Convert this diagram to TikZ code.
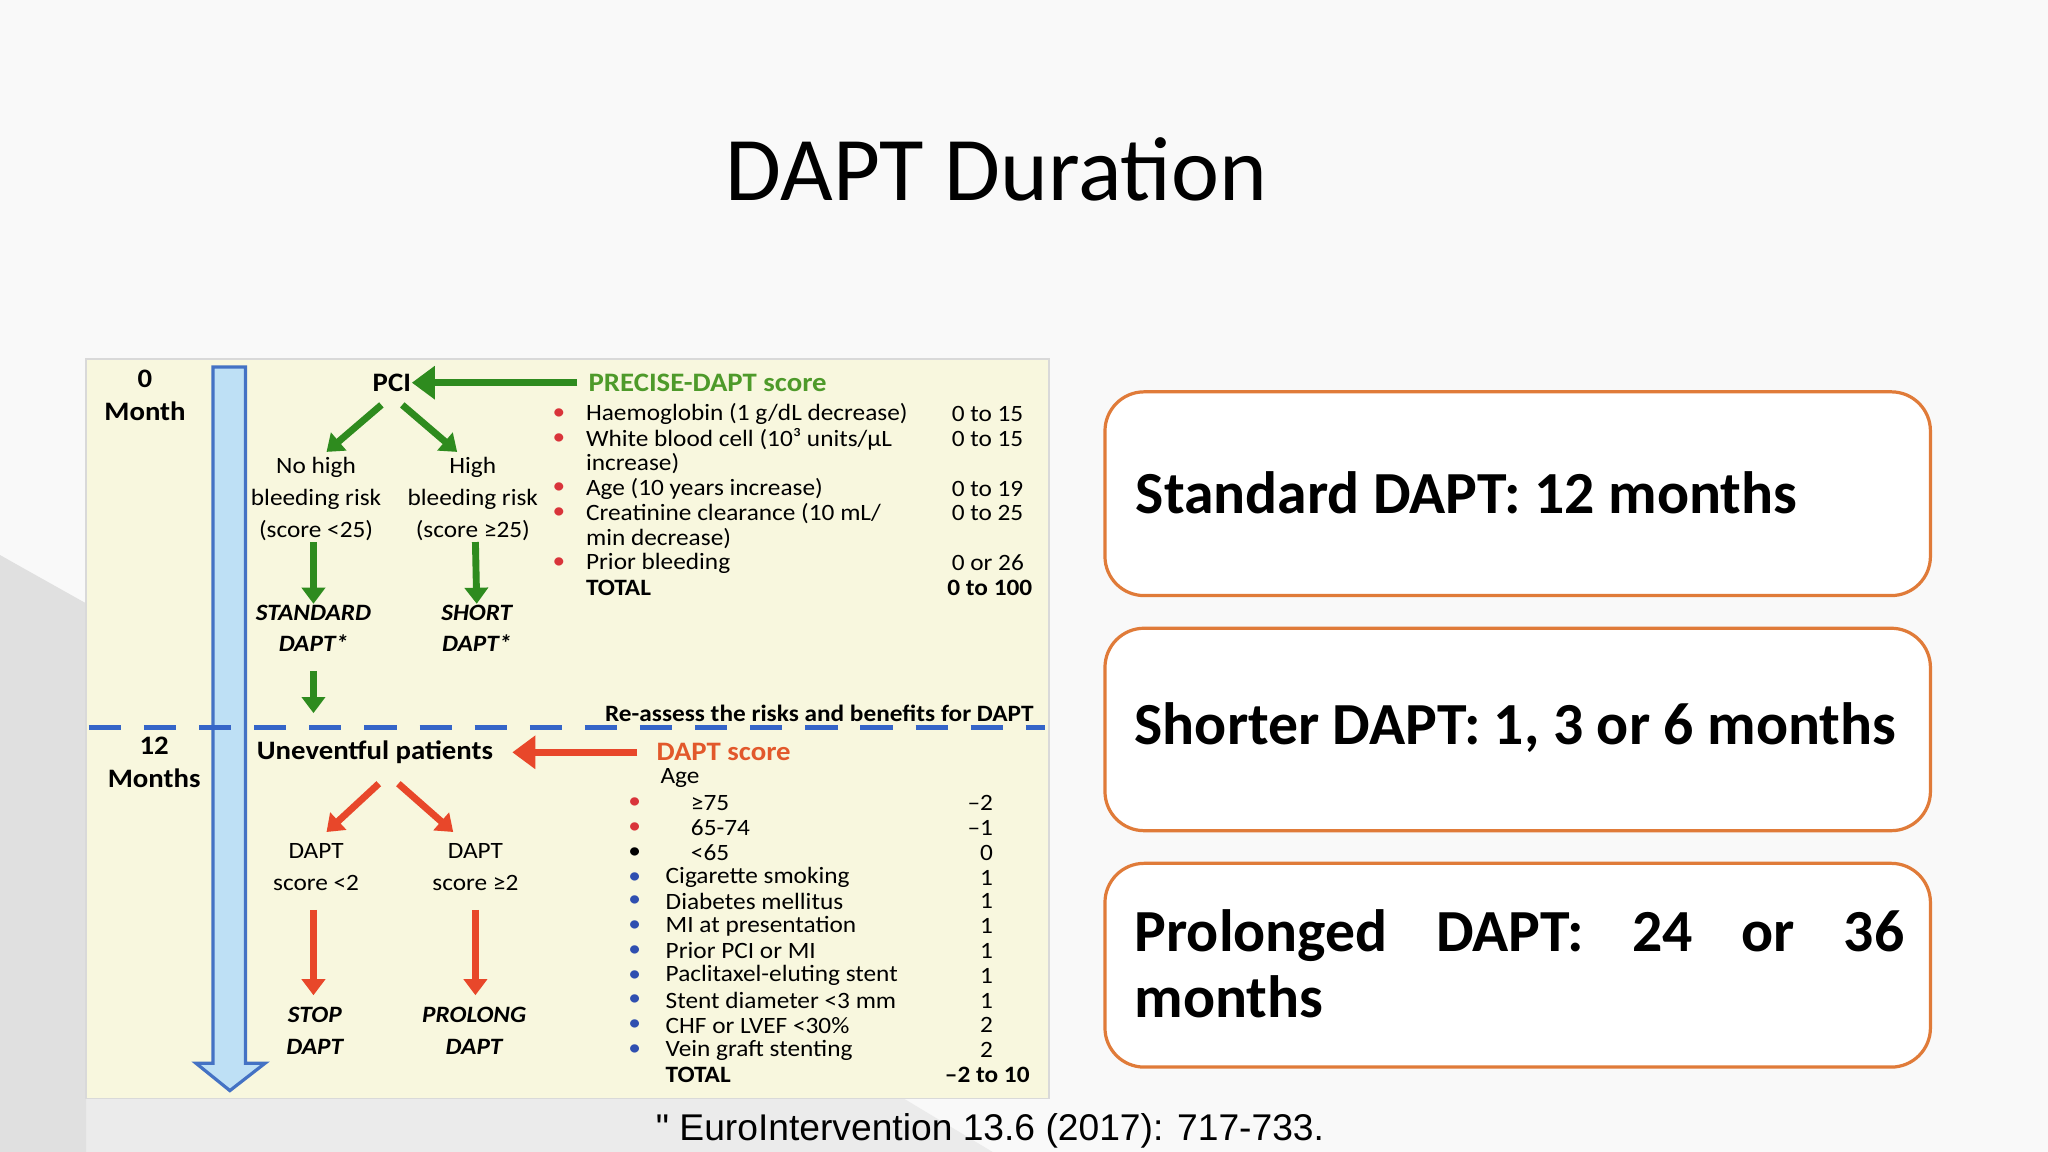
\documentclass[tikz,border=0pt]{standalone}
\usepackage{fontspec}
\setmainfont{Carlito}
\newfontfamily\panelfont[FakeStretch=1.08]{Carlito}
\newfontfamily\citefont{Liberation Sans}
\usetikzlibrary{arrows.meta}
\definecolor{bg}{HTML}{F9F9F9}
\definecolor{panelbg}{HTML}{F8F7DE}
\definecolor{gar}{HTML}{2E8B1E}
\definecolor{gtx}{HTML}{4E9A2A}
\definecolor{rar}{HTML}{E8472A}
\definecolor{rtx}{HTML}{E2582B}
\definecolor{bdash}{HTML}{3565C8}
\definecolor{bfill}{HTML}{BEE0F5}
\definecolor{bline}{HTML}{4472C4}
\definecolor{obox}{HTML}{E07B39}
\definecolor{rb}{HTML}{D9343A}
\definecolor{bb}{HTML}{2F4FB0}
\begin{document}
\begin{tikzpicture}[x=0.01cm,y=-0.01cm,
  ptxt/.style={font=\panelfont\fontsize{5.1}{5.4}\selectfont,inner sep=0pt,align=center},
  pbold/.style={font=\panelfont\bfseries\fontsize{5.8}{6.2}\selectfont,inner sep=0pt,align=center},
  psb/.style={font=\panelfont\bfseries\fontsize{5.1}{5.4}\selectfont,inner sep=0pt},
  pbi/.style={font=\panelfont\bfseries\itshape\fontsize{5.1}{5.4}\selectfont,inner sep=0pt,align=center},
  garrow/.style={draw=gar,line width=1.5pt,-{Triangle[length=3.5pt,width=5pt]}},
  rarrow/.style={draw=rar,line width=1.5pt,-{Triangle[length=3.5pt,width=5pt]}},
  bigbox/.style={draw=obox,line width=0.7pt,rounded corners=0.3cm,fill=white},
  boxtxt/.style={font=\bfseries\fontsize{13}{14}\selectfont,inner sep=0pt,anchor=west}]
\useasboundingbox (0,0) rectangle (1568,882);
\fill[bg] (0,0) rectangle (1568,882);
\fill[black!8] (0,425) -- (760,882) -- (0,882) -- cycle;
\fill[black!12] (0,425) -- (66,462) -- (66,882) -- (0,882) -- cycle;
\node[font=\fontsize{19.8}{22}\selectfont,inner sep=0pt] (title) at (763,130) {DAPT Duration};
% panel
\draw[black!15,fill=panelbg] (66,275) rectangle (803,841);
% timeline arrow
\draw[bline,fill=bfill,line width=0.7pt] (163,281) -- (188,281) -- (188,814) -- (203,814) -- (176,835) -- (150,814) -- (163,814) -- cycle;
\node[pbold] (m0) at (111,303) {0\\[1pt]Month};
\node[pbold] (m12) at (118,584) {12\\[1pt]Months};
% upper part
\node[pbold] (pci) at (300,293) {PCI};
\node[pbold,text=gtx,anchor=west] (precise) at (450,293) {PRECISE-DAPT score};
\draw[garrow,-{Triangle[length=5pt,width=7pt]}] (precise.west)++(-8,0) -- (pci.east);
\coordinate (pl) at (292,310); \coordinate (pr) at (308,310);
\node[ptxt,align=center,font=\panelfont\fontsize{5.1}{6.9}\selectfont] (nohigh) at (242,382) {No high\\bleeding risk\\(score <25)};
\node[ptxt,align=center,font=\panelfont\fontsize{5.1}{6.9}\selectfont] (high) at (362,382) {High\\bleeding risk\\(score ≥25)};
\draw[garrow] (pl) -- (250,346);
\draw[garrow] (pr) -- (350,346);
\node[pbi,font=\panelfont\bfseries\itshape\fontsize{5.1}{6.9}\selectfont] (std) at (240,481) {STANDARD\\DAPT*};
\node[pbi,font=\panelfont\bfseries\itshape\fontsize{5.1}{6.9}\selectfont] (short) at (365,481) {SHORT\\DAPT*};
\draw[garrow] (240,415) -- (std.north);
\draw[garrow] (364,415) -- (short.north);
\coordinate (reas) at (240,546);
\draw[garrow] (std.south)++(0,14) -- (reas);
% precise list
\foreach \y/\t/\v [count=\i] in {317/{Haemoglobin (1 g/dL decrease)}/{0 to 15},336/{White blood cell (10³ units/µL}/{0 to 15},374/{Age (10 years increase)}/{0 to 19},393/{Creatinine clearance (10 mL/}/{0 to 25},431/{Prior bleeding}/{0 or 26}}{
  \node[ptxt,text=rb] (pb\i) at (428,\y) {\textbullet};
  \node[ptxt,anchor=west] (pt\i) at (448,\y) {\t};
  \node[ptxt,anchor=west] (pv\i) at (728,\y) {\v};
}
\node[ptxt,anchor=west] (pc1) at (448,355) {increase)};
\node[ptxt,anchor=west] (pc2) at (448,412) {min decrease)};
\node[psb,anchor=west] (ptot) at (448,450) {TOTAL};
\node[psb,anchor=east] (ptotv) at (791,450) {0 to 100};
\node[psb,anchor=east] (reassess) at (792,546) {Re-assess the risks and benefits for DAPT};
\draw[bdash,line width=1.1pt,dash pattern=on 7pt off 5pt] (68,557) -- (800,557);
% lower part
\node[pbold,anchor=west] (unev) at (196,576) {Uneventful patients};
\node[pbold,text=rtx,anchor=west] (dscore) at (502,576) {DAPT score};
\draw[rarrow,-{Triangle[length=5pt,width=7pt]}] (dscore.west)++(-14,0) -- ([xshift=4pt]unev.east);
\coordinate (ul) at (290,600); \coordinate (ur) at (305,600);
\draw[rarrow] (ul) -- (250,637);
\draw[rarrow] (ur) -- (347,637);
\node[ptxt,font=\panelfont\fontsize{5.1}{6.9}\selectfont] (dl) at (242,664) {DAPT\\score <2};
\node[ptxt,font=\panelfont\fontsize{5.1}{6.9}\selectfont] (dr) at (364,664) {DAPT\\score ≥2};
\node[pbi,font=\panelfont\bfseries\itshape\fontsize{5.1}{6.9}\selectfont] (stop) at (241,789) {STOP\\DAPT};
\node[pbi,font=\panelfont\bfseries\itshape\fontsize{5.1}{6.9}\selectfont] (prolong) at (363,789) {PROLONG\\DAPT};
\draw[rarrow] (dl.south)++(-2,14) -- (240,762);
\draw[rarrow] (dr.south)++(0,14) -- (364,762);
\node[ptxt,anchor=west] (age) at (505,596) {Age};
\foreach \y/\t/\v/\c [count=\i] in {615/{\hspace{5.5pt}≥75}/{–2}/rb,634/{\hspace{5.5pt}65-74}/{–1}/rb,653/{\hspace{5.5pt}<65}/0/black,672/{Cigarette smoking}/1/bb,690/{Diabetes mellitus}/1/bb,709/{MI at presentation}/1/bb,728/{Prior PCI or MI}/1/bb,747/{Paclitaxel-eluting stent}/1/bb,766/{Stent diameter <3 mm}/1/bb,785/{CHF or LVEF <30\%}/2/bb,804/{Vein graft stenting}/2/bb}{
  \node[ptxt,text=\c] (db\i) at (486,\y) {\textbullet};
  \node[ptxt,anchor=west] (dt\i) at (509,\y) {\t};
  \node[ptxt,anchor=east] (dv\i) at (761,\y) {\v};
}
\node[psb,anchor=west] (dtot) at (509,823) {TOTAL};
\node[psb,anchor=east] (dtotv) at (789,823) {–2 to 10};
% right boxes
\draw[bigbox] (846,300) rectangle (1478,456);
\draw[bigbox] (846,481) rectangle (1478,636);
\draw[bigbox] (846,661) rectangle (1478,817);
\node[boxtxt] (b1) at (869,377) {Standard DAPT: 12 months};
\node[boxtxt] (b2) at (868,557) {Shorter DAPT: 1, 3 or 6 months};
\node[boxtxt,text width=5.89cm,align=justify,font=\bfseries\fontsize{13}{14.3}\selectfont] (b3) at (868,738) {\hyphenpenalty=10000\noindent Prolonged DAPT: 24 or 36 months};
\node[font=\citefont\fontsize{8.1}{9}\selectfont,inner sep=0pt] (cite) at (758,866) {" EuroIntervention 13.6 (2017): 717-733.};
\end{tikzpicture}
\end{document}
